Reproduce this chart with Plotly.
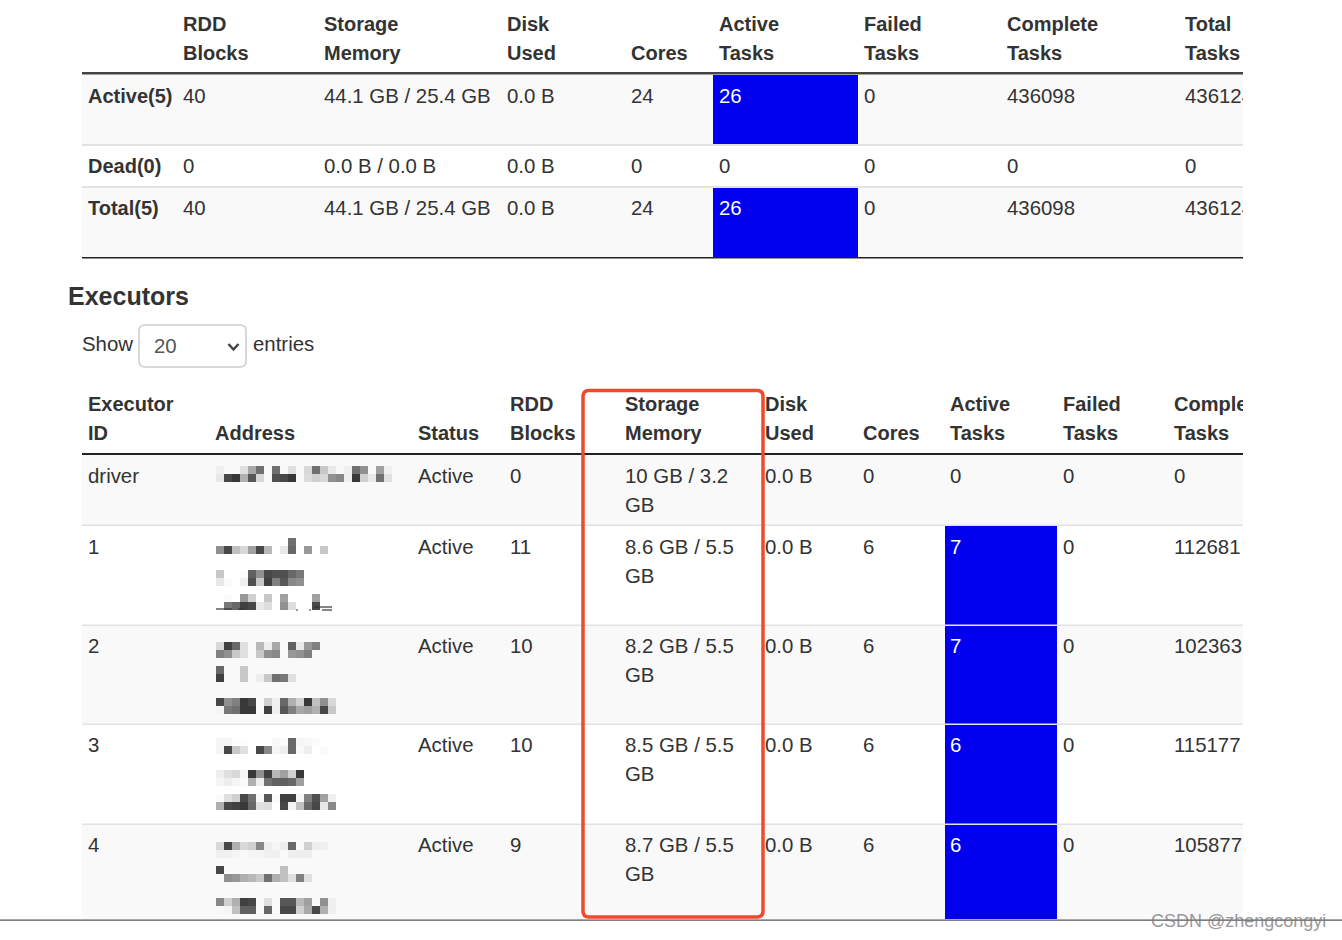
import plotly.graph_objects as go

# summary table
SUMMARY_HEAD = [["", ""], ["RDD", "Blocks"], ["Storage", "Memory"], ["Disk", "Used"], ["", "Cores"],
                ["Active", "Tasks"], ["Failed", "Tasks"], ["Complete", "Tasks"], ["Total", "Tasks"]]
SUMMARY_LABEL = ["Active(5)", "Dead(0)", "Total(5)"]
SUMMARY_RDD = ["40", "0", "40"]
SUMMARY_STORAGE = ["44.1 GB / 25.4 GB", "0.0 B / 0.0 B", "44.1 GB / 25.4 GB"]
SUMMARY_DISK = ["0.0 B", "0.0 B", "0.0 B"]
SUMMARY_CORES = ["24", "0", "24"]
SUMMARY_ACTIVE = ["26", "0", "26"]
SUMMARY_FAILED = ["0", "0", "0"]
SUMMARY_COMPLETE = ["436098", "0", "436098"]
SUMMARY_TOTAL = ["436124", "0", "436124"]

# executors table
EXEC_HEAD = [["Executor", "ID"], ["", "Address"], ["", "Status"], ["RDD", "Blocks"], ["Storage", "Memory"],
             ["Disk", "Used"], ["", "Cores"], ["Active", "Tasks"], ["Failed", "Tasks"], ["Complete", "Tasks"]]
EXEC_ID = ["driver", "1", "2", "3", "4"]
EXEC_STATUS = ["Active", "Active", "Active", "Active", "Active"]
EXEC_RDD = ["0", "11", "10", "10", "9"]
EXEC_STORAGE = ["10 GB / 3.2\nGB", "8.6 GB / 5.5\nGB", "8.2 GB / 5.5\nGB", "8.5 GB / 5.5\nGB", "8.7 GB / 5.5\nGB"]
EXEC_DISK = ["0.0 B", "0.0 B", "0.0 B", "0.0 B", "0.0 B"]
EXEC_CORES = ["0", "6", "6", "6", "6"]
EXEC_ACTIVE = ["0", "7", "7", "6", "6"]
EXEC_FAILED = ["0", "0", "0", "0", "0"]
EXEC_COMPLETE = ["0", "112681", "102363", "115177", "105877"]

# pixelated address cells, grey levels per block (255 = nothing there)
BLUR_DRIVER = [[240, 250, 250, 224, 168, 112, 255, 112, 248, 224, 255, 216, 112, 200, 232, 248, 240, 112, 144, 255, 160, 240],
               [232, 72, 56, 176, 88, 216, 255, 80, 72, 56, 255, 220, 208, 216, 144, 136, 240, 56, 208, 232, 112, 224]]
BLUR_1A = [[255, 255, 255, 255, 255, 255, 255, 255, 255, 112, 255, 255, 255, 255],
           [144, 72, 192, 216, 160, 72, 184, 255, 232, 104, 255, 152, 255, 200]]
BLUR_1B = [[200, 255, 255, 250, 96, 144, 72, 80, 80, 104, 120],
           [232, 250, 255, 240, 80, 200, 64, 128, 88, 136, 144]]
BLUR_1C = [[255, 250, 255, 152, 208, 255, 200, 255, 160, 255, 255, 255, 160, 255],
           [255, 120, 104, 64, 72, 232, 221, 255, 144, 221, 255, 255, 72, 255]]
BLUR_2A = [[216, 64, 104, 224, 255, 184, 238, 168, 250, 96, 232, 152, 128],
           [128, 144, 200, 224, 255, 200, 144, 136, 250, 152, 144, 128, 250]]
BLUR_2B = [[104, 255, 255, 200, 255, 255, 255, 255, 255, 255, 255],
           [64, 255, 250, 200, 250, 238, 200, 112, 120, 224, 250]]
BLUR_2C = [[72, 144, 128, 56, 72, 250, 208, 240, 104, 176, 208, 56, 192, 144, 216],
           [245, 120, 112, 56, 56, 250, 64, 240, 88, 128, 168, 160, 176, 72, 200]]
BLUR_3A = [[245, 245, 253, 253, 255, 255, 255, 248, 251, 104, 245, 248, 251, 255, 255],
           [245, 72, 200, 224, 255, 72, 136, 245, 238, 104, 248, 238, 255, 250, 255]]
BLUR_3B = [[238, 224, 216, 245, 56, 144, 64, 184, 160, 208, 56],
           [245, 238, 245, 250, 176, 238, 112, 96, 96, 104, 160]]
BLUR_3C = [[250, 224, 208, 72, 112, 248, 88, 250, 64, 64, 245, 128, 80, 160, 240],
           [176, 72, 64, 56, 104, 224, 221, 255, 72, 245, 192, 104, 72, 232, 136]]
BLUR_4A = [[216, 72, 176, 216, 208, 136, 238, 245, 238, 104, 255, 208, 238, 240],
           [240, 240, 245, 250, 245, 245, 240, 240, 250, 238, 238, 238, 255, 255]]
BLUR_4B = [[72, 250, 250, 250, 250, 250, 250, 250, 192, 250, 255, 255, 255],
           [255, 144, 152, 176, 184, 200, 112, 176, 192, 224, 128, 224, 255]]
BLUR_4C = [[136, 208, 176, 64, 72, 250, 224, 250, 88, 88, 184, 160, 250, 144, 240],
           [248, 245, 192, 96, 96, 250, 104, 250, 72, 72, 208, 168, 72, 176, 240]]
BLUR_CELLS = [BLUR_DRIVER, BLUR_1A, BLUR_1B, BLUR_1C, BLUR_2A, BLUR_2B, BLUR_2C,
              BLUR_3A, BLUR_3B, BLUR_3C, BLUR_4A, BLUR_4B, BLUR_4C]
BLUR_TOP = [466, 538, 570, 594, 642, 666, 698, 738, 770, 794, 842, 866, 898]

SHOW_VALUE = "20"
WATERMARK = "CSDN @zhengcongyi"

# layout in page pixels
W, H = 1342, 940
LEFT, RIGHT = 82, 1243
SUMMARY_X = [88, 183, 324, 507, 631, 719, 864, 1007, 1185]
SUMMARY_BLUE = (713, 858)
SUMMARY_ROWS = [(75, 144), (146, 186), (188, 257)]
SUMMARY_TEXT_Y = [95.5, 166, 208]
EXEC_X = [88, 215, 418, 510, 625, 765, 863, 950, 1063, 1174]
EXEC_BLUE = (945, 1057)
EXEC_ROWS = [(455, 525), (526, 625), (626, 724), (725, 824), (825, 919)]
EXEC_TEXT_Y = [476, 547, 646, 745, 845]
LINE_H = 29
TEXT_DROP = 2
INK = "#333333"
BLUE = "#0000EE"
RED = "#EE4A2C"
# bits of address text the mosaic did not cover
SCRAPS = [(216, 232, 609), (238, 244, 609), (296, 298, 610), (309, 311, 610), (314, 332, 607), (322, 332, 610)]

texts = {"normal": [], "bold": [], "white": [], "select": []}


def put(style, x, y, s):
    if s:
        texts[style].append((x, y + TEXT_DROP, s))


def rect(x0, y0, x1, y1, color, layer="below"):
    return dict(type="rect", xref="x", yref="y", x0=x0, y0=y0, x1=x1, y1=y1,
                fillcolor=color, line_width=0, layer=layer)


shapes = []

# summary table
for col, head in zip(SUMMARY_X, SUMMARY_HEAD):
    put("bold", col, 24, head[0])
    put("bold", col, 53, head[1])
shapes.append(rect(LEFT, 72, RIGHT, 74.5, "#444444"))
summary_cols = [SUMMARY_RDD, SUMMARY_STORAGE, SUMMARY_DISK, SUMMARY_CORES, SUMMARY_ACTIVE,
                SUMMARY_FAILED, SUMMARY_COMPLETE, SUMMARY_TOTAL]
for i, (top, bottom) in enumerate(SUMMARY_ROWS):
    if i != 1:
        shapes.append(rect(LEFT, top, RIGHT, bottom, "#F9F9F9"))
    if i < 2:
        shapes.append(rect(LEFT, bottom, RIGHT, bottom + 2, "#E2E2E2"))
    y = SUMMARY_TEXT_Y[i]
    if int(SUMMARY_ACTIVE[i]) > 0:
        shapes.append(rect(SUMMARY_BLUE[0], top, SUMMARY_BLUE[1], bottom, BLUE))
    put("bold", SUMMARY_X[0], y, SUMMARY_LABEL[i])
    for col, values in zip(SUMMARY_X[1:], summary_cols):
        style = "white" if values is SUMMARY_ACTIVE and int(values[i]) > 0 else "normal"
        put(style, col, y, values[i])
shapes.append(rect(LEFT, 257, RIGHT, 258.5, "#222222"))

# executors table
for col, head in zip(EXEC_X, EXEC_HEAD):
    put("bold", col, 404, head[0])
    put("bold", col, 433, head[1])
shapes.append(rect(LEFT, 453, RIGHT, 455, "#222222"))
for i, (top, bottom) in enumerate(EXEC_ROWS):
    if i % 2 == 0:
        shapes.append(rect(LEFT, top, RIGHT, bottom, "#F9F9F9"))
    if int(EXEC_ACTIVE[i]) > 0:
        shapes.append(rect(EXEC_BLUE[0], top, EXEC_BLUE[1], bottom, BLUE))
    if i < 4:
        shapes.append(rect(LEFT, bottom - 0.5, RIGHT, bottom + 1, "#E2E2E2"))
    y = EXEC_TEXT_Y[i]
    put("normal", EXEC_X[0], y, EXEC_ID[i])
    put("normal", EXEC_X[2], y, EXEC_STATUS[i])
    put("normal", EXEC_X[3], y, EXEC_RDD[i])
    for k, part in enumerate(EXEC_STORAGE[i].split("\n")):
        put("normal", EXEC_X[4], y + k * LINE_H, part)
    put("normal", EXEC_X[5], y, EXEC_DISK[i])
    put("normal", EXEC_X[6], y, EXEC_CORES[i])
    put("white" if int(EXEC_ACTIVE[i]) > 0 else "normal", EXEC_X[7], y, EXEC_ACTIVE[i])
    put("normal", EXEC_X[8], y, EXEC_FAILED[i])
    put("normal", EXEC_X[9], y, EXEC_COMPLETE[i])

for x0, x1, y in SCRAPS:
    shapes.append(dict(type="line", xref="x", yref="y", x0=x0, x1=x1, y0=y, y1=y, layer="above",
                       line=dict(color="#333333", width=1.2)))

# section title and page length control
put("normal", 82, 344, "Show")
put("normal", 253, 344, "entries")
put("select", 154, 346, SHOW_VALUE)
shapes.append(dict(type="path", xref="x", yref="y", layer="below", fillcolor="white",
                   line=dict(color="#CCCCCC", width=1.5),
                   path="M 145 325 L 240 325 Q 246 325 246 331 L 246 361 Q 246 367 240 367 "
                        "L 145 367 Q 139 367 139 361 L 139 331 Q 139 325 145 325 Z"))
shapes.append(dict(type="path", xref="x", yref="y", layer="below",
                   line=dict(color="#444444", width=2.5),
                   path="M 228.5 344 L 233.5 349.5 L 238.5 344"))

# hand drawn highlight, rounded
shapes.append(dict(type="path", xref="x", yref="y", layer="above",
                   line=dict(color=RED, width=3.5),
                   path="M 589 390.5 L 757 390.5 Q 763 390.5 763 396.5 L 763 911 Q 763 917 757 917 "
                        "L 589 917 Q 583 917 583 911 L 583 396.5 Q 583 390.5 589 390.5 Z"))

# the page is cut off to the right of the table and at the bottom
shapes.append(rect(RIGHT, 0, W, 919.5, "white", "above"))
shapes.append(rect(0, 919.5, W, H, "white", "above"))
shapes.append(rect(0, 919.5, W, 920.8, "#555555", "above"))

fig = go.Figure()

for top, cell in zip(BLUR_TOP, BLUR_CELLS):
    fig.add_trace(go.Heatmap(
        z=[[None if v == 255 else v for v in row] for row in cell],
        x0=220, dx=8, y0=top + 4, dy=8,
        zmin=0, zmax=255, colorscale=[[0, "#000000"], [1, "#FFFFFF"]],
        showscale=False, hoverinfo="skip",
    ))

fonts = {
    "normal": dict(family="Liberation Sans", size=20.4, color=INK),
    "bold": dict(family="Liberation Sans", size=20, color=INK, weight="bold"),
    "white": dict(family="Liberation Sans", size=20.4, color="white"),
    "select": dict(family="Liberation Sans", size=20.4, color="#555555"),
}
for style, items in texts.items():
    fig.add_trace(go.Scatter(
        x=[t[0] for t in items], y=[t[1] for t in items], text=[t[2] for t in items],
        mode="text", textposition="middle right", textfont=fonts[style],
        hoverinfo="skip", showlegend=False, cliponaxis=False,
    ))
fig.add_trace(go.Scatter(
    x=[68], y=[299], text=["Executors"], mode="text", textposition="middle right",
    textfont=dict(family="Liberation Sans", size=25, color=INK, weight="bold"),
    hoverinfo="skip", showlegend=False,
))

fig.add_annotation(x=1328, y=921, xref="x", yref="y", xanchor="right", yanchor="middle",
                   text=WATERMARK, showarrow=False,
                   font=dict(family="Liberation Sans", size=18, color="rgba(125,125,125,0.8)"))

fig.update_layout(
    width=W, height=H, margin=dict(l=0, r=0, t=0, b=0),
    paper_bgcolor="white", plot_bgcolor="white",
    xaxis=dict(range=[0, W], visible=False),
    yaxis=dict(range=[H, 0], visible=False),
    shapes=shapes, showlegend=False,
)
fig.write_html("out.html", post_script="document.body.style.margin='0';document.body.style.overflow='hidden';",
               config=dict(displayModeBar=False))
